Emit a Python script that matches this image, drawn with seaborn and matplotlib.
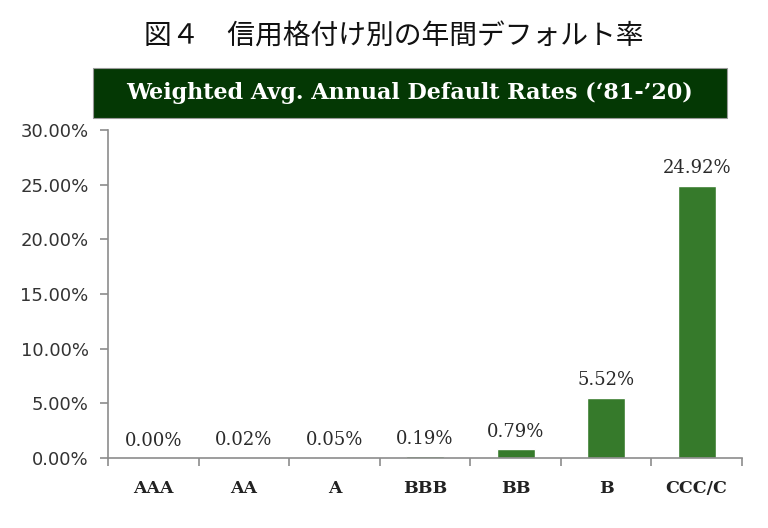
import matplotlib
matplotlib.use("Agg")
import matplotlib.pyplot as plt
import matplotlib.ticker as mticker
import pandas as pd
import seaborn as sns
from matplotlib.patches import Rectangle

ratings = ["AAA", "AA", "A", "BBB", "BB", "B", "CCC/C"]
default_rates = [0.00, 0.02, 0.05, 0.19, 0.79, 5.52, 24.92]
y_ticks = [0, 5, 10, 15, 20, 25, 30]

main_title = "図４　信用格付け別の年間デフォルト率"
band_title = "Weighted Avg. Annual Default Rates (\u201881-\u201920)"

BAR_GREEN = "#367a2b"
BAND_GREEN = "#043804"
AXIS_GREY = "#8c8c8c"

sns.set_theme(style="white")
plt.rcParams["font.family"] = ["DejaVu Sans", "Noto Sans CJK JP"]

df = pd.DataFrame({"rating": ratings, "rate": default_rates})

fig = plt.figure(figsize=(7.68, 5.28), dpi=100)
ax = fig.add_axes([0.1406, 0.1326, 0.8255, 0.6212])

sns.barplot(data=df, x="rating", y="rate", color=BAR_GREEN, width=0.42,
            saturation=1, ax=ax)

ax.set_xlim(-0.5, len(ratings) - 0.5)
ax.set_ylim(0, 30)
ax.set_yticks(y_ticks)
ax.yaxis.set_major_formatter(mticker.FuncFormatter(lambda v, _: f"{v:.2f}%"))
ax.set_xlabel("")
ax.set_ylabel("")

# category boundary ticks on x, label ticks hidden
ax.set_xticks([i + 0.5 for i in range(-1, len(ratings))], minor=True)
ax.tick_params(axis="x", which="major", length=0, pad=16, labelsize=12.5,
               labelcolor="#222222")
ax.tick_params(axis="x", which="minor", length=6, width=1.2, color=AXIS_GREY,
               direction="out", bottom=True)
ax.tick_params(axis="y", length=6, width=1.2, color=AXIS_GREY, direction="out",
               left=True, labelsize=13, labelcolor="#333333", pad=8)
for lbl in ax.get_xticklabels():
    lbl.set_family("DejaVu Serif")
    lbl.set_fontweight("bold")

for side in ["top", "right"]:
    ax.spines[side].set_visible(False)
for side in ["left", "bottom"]:
    ax.spines[side].set_color(AXIS_GREY)
    ax.spines[side].set_linewidth(1.2)

for i, v in enumerate(default_rates):
    ax.annotate(f"{v:.2f}%", (i, v), xytext=(0, 6), textcoords="offset points",
                ha="center", va="bottom", fontsize=13, family="DejaVu Serif",
                color="#2a2a2a")

# dark green title band
fig.patches.append(Rectangle((0.121, 0.7765), 0.8255, 0.0947,
                             transform=fig.transFigure, facecolor=BAND_GREEN,
                             edgecolor="#9a9a9a", linewidth=0.8))
fig.text(0.121 + 0.8255 / 2, 0.7765 + 0.0947 / 2, band_title, ha="center",
         va="center", color="white", fontsize=16, fontweight="bold",
         family="DejaVu Serif")

fig.text(0.513, 0.93, main_title, ha="center", va="center", fontsize=20,
         family=["Noto Sans CJK JP", "DejaVu Sans"], color="#111111")

fig.savefig("out.png", dpi=100)
